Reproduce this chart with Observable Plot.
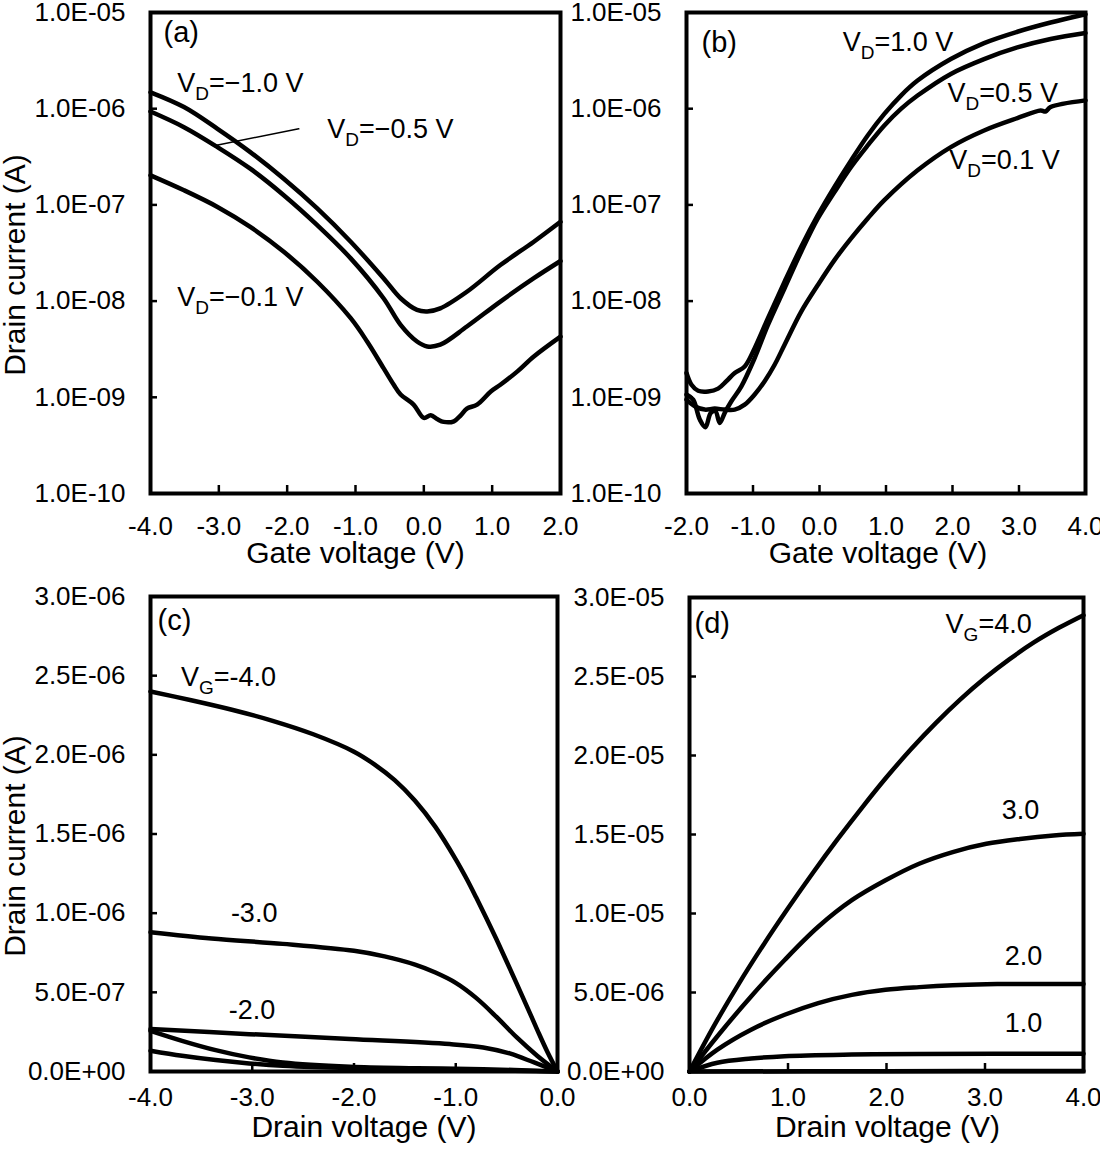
<!DOCTYPE html>
<html><head><meta charset="utf-8">
<script src="https://cdn.jsdelivr.net/npm/d3@7"></script>
<script src="https://cdn.jsdelivr.net/npm/@observablehq/plot@0.6"></script>
<style>
body{margin:0;background:#fff;}
#fig{position:relative;width:1100px;height:1151px;background:#fff;}
#fig svg{position:absolute;overflow:visible;}
</style></head><body><div id="fig"></div>
<script>
// ---------- Panel (a): transfer curves, p-type (Gate voltage V, Drain current A)
const a_VDm10 = [[-4.0,1.48e-6],[-3.51,1.04e-6],[-3.02,6.18e-7],[-2.54,3.54e-7],[-2.05,1.87e-7],[-1.56,9.2e-8],[-1.07,4.14e-8],[-0.59,1.73e-8],[-0.34,1.07e-8],[-0.10,8.1e-9],[0.05,7.8e-9],[0.24,8.4e-9],[0.63,1.25e-8],[1.12,2.37e-8],[1.61,4.14e-8],[2.0,6.67e-8]];
const a_VDm05 = [[-4.0,9.35e-7],[-3.51,6.43e-7],[-3.02,3.99e-7],[-2.54,2.38e-7],[-2.05,1.26e-7],[-1.56,6.15e-8],[-1.07,2.78e-8],[-0.59,1.07e-8],[-0.34,5.66e-9],[-0.10,3.8e-9],[0.05,3.38e-9],[0.24,3.52e-9],[0.63,5.44e-9],[1.12,9.89e-9],[1.61,1.73e-8],[2.0,2.61e-8]];
const a_VDm01 = [[-4.0,2.03e-7],[-3.51,1.42e-7],[-3.02,9.53e-8],[-2.54,5.91e-8],[-2.05,3.26e-8],[-1.56,1.59e-8],[-1.07,6.64e-9],[-0.83,3.8e-9],[-0.59,2.01e-9],[-0.44,1.35e-9],[-0.34,1.07e-9],[-0.15,8.4e-10],[0.0,6.1e-10],[0.10,6.5e-10],[0.20,5.9e-10],[0.29,5.55e-10],[0.44,5.63e-10],[0.54,6.5e-10],[0.63,7.63e-10],[0.78,8.4e-10],[0.98,1.15e-9],[1.12,1.35e-9],[1.37,1.86e-9],[1.61,2.66e-9],[2.0,4.28e-9]];
const a_pointer = [[-1.83,6.18e-7],[-3.05,4.15e-7]];
const a_labels = [
  {text:"V_D=−1.0 V", V:-3.61, I:1.85e-6},
  {text:"V_D=−0.5 V", V:-1.415, I:6.08e-7},
  {text:"V_D=−0.1 V", V:-3.61, I:1.09e-8}
];

// ---------- Panel (b): transfer curves, n-type
const b_VD10 = [[-2.0,1.79e-9],[-1.925,1.35e-9],[-1.825,1.17e-9],[-1.675,1.15e-9],[-1.525,1.23e-9],[-1.40,1.47e-9],[-1.275,1.79e-9],[-1.125,2.09e-9],[-0.975,3.24e-9],[-0.775,6.64e-9],[-0.525,1.59e-8],[-0.275,3.67e-8],[-0.025,7.82e-8],[0.225,1.54e-7],[0.475,2.9e-7],[0.725,5.27e-7],[0.975,8.83e-7],[1.225,1.37e-6],[1.475,1.96e-6],[1.975,3.28e-6],[2.475,4.81e-6],[2.975,6.31e-6],[3.475,7.87e-6],[4.0,9.6e-6]];
const b_VD05 = [[-2.0,1.07e-9],[-1.90,9.46e-10],[-1.80,5.87e-10],[-1.715,4.89e-10],[-1.635,6.89e-10],[-1.565,7.16e-10],[-1.50,5.42e-10],[-1.425,6.89e-10],[-1.325,9.09e-10],[-1.175,1.3e-9],[-0.975,2.56e-9],[-0.775,5.66e-9],[-0.525,1.36e-8],[-0.275,3.26e-8],[-0.025,7.22e-8],[0.225,1.36e-7],[0.475,2.48e-7],[0.725,4.15e-7],[0.975,6.7e-7],[1.225,9.96e-7],[1.475,1.37e-6],[1.975,2.3e-6],[2.475,3.28e-6],[2.975,4.33e-6],[3.475,5.3e-6],[4.0,6.11e-6]];
const b_VD01 = [[-2.0,9.46e-10],[-1.875,8.07e-10],[-1.725,7.45e-10],[-1.575,7.63e-10],[-1.425,7.45e-10],[-1.275,7.45e-10],[-1.125,8.39e-10],[-0.975,1.07e-9],[-0.825,1.47e-9],[-0.675,2.18e-9],[-0.525,3.52e-9],[-0.275,7.78e-9],[-0.025,1.47e-8],[0.225,2.67e-8],[0.475,4.48e-8],[0.725,7.22e-8],[0.975,1.12e-7],[1.475,2.29e-7],[1.975,3.99e-7],[2.475,5.94e-7],[2.975,7.98e-7],[3.325,9.57e-7],[3.40,9.35e-7],[3.475,1.04e-6],[4.0,1.22e-6]];
const b_labels = [
  {text:"V_D=1.0 V", V:0.35, I:4.89e-6},
  {text:"V_D=0.5 V", V:1.925, I:1.43e-6},
  {text:"V_D=0.1 V", V:1.95, I:2.9e-7}
];

// ---------- Panel (c): output curves, p-type (Drain voltage V, Drain current A)
const c_VGm4 = [[-4.0,2.40e-6],[-3.6,2.345e-6],[-3.2,2.285e-6],[-2.8,2.215e-6],[-2.4,2.13e-6],[-2.0,2.02e-6],[-1.8,1.94e-6],[-1.6,1.84e-6],[-1.4,1.71e-6],[-1.2,1.545e-6],[-1.0,1.34e-6],[-0.9,1.225e-6],[-0.8,1.10e-6],[-0.7,9.7e-7],[-0.6,8.35e-7],[-0.5,6.95e-7],[-0.4,5.53e-7],[-0.3,4.1e-7],[-0.2,2.65e-7],[-0.1,1.25e-7],[0.0,0]];
const c_VGm3 = [[-4.0,8.8e-7],[-3.4,8.4e-7],[-2.7,8.06e-7],[-2.0,7.62e-7],[-1.7,7.27e-7],[-1.4,6.75e-7],[-1.2,6.25e-7],[-1.0,5.6e-7],[-0.8,4.65e-7],[-0.6,3.45e-7],[-0.4,2.15e-7],[-0.2,1.0e-7],[0.0,0]];
const c_VGm2 = [[-4.0,2.68e-7],[-3.03,2.36e-7],[-2.04,2.05e-7],[-1.06,1.73e-7],[-0.73,1.52e-7],[-0.47,1.14e-7],[-0.23,5.7e-8],[0.0,0]];
const c_VGm1 = [[-4.0,2.57e-7],[-3.69,1.94e-7],[-3.36,1.35e-7],[-3.03,8.9e-8],[-2.70,5.7e-8],[-2.04,3.0e-8],[-1.38,2.1e-8],[-0.73,1.5e-8],[0.0,0]];
const c_VG0 = [[-4.0,1.31e-7],[-3.69,9.9e-8],[-3.36,7.2e-8],[-3.03,5.1e-8],[-2.70,3.6e-8],[-2.04,2.1e-8],[-1.38,1.5e-8],[-0.73,8e-9],[0.0,0]];
const c_labels = [
  {text:"V_G=-4.0", V:-3.70, I:2.49e-6},
  {text:"-3.0", V:-3.21, I:1.0e-6},
  {text:"-2.0", V:-3.23, I:3.88e-7}
];

// ---------- Panel (d): output curves, n-type
const d_VG4 = [[0,0],[0.25,2.9e-6],[0.5,5.55e-6],[0.75,8.01e-6],[1.0,1.033e-5],[1.25,1.255e-5],[1.5,1.467e-5],[1.75,1.669e-5],[2.0,1.862e-5],[2.25,2.041e-5],[2.5,2.205e-5],[2.75,2.355e-5],[3.0,2.49e-5],[3.25,2.61e-5],[3.5,2.717e-5],[3.75,2.808e-5],[4.0,2.888e-5]];
const d_VG3 = [[0,0],[0.283,2.23e-6],[0.625,4.75e-6],[0.966,7.06e-6],[1.307,9.16e-6],[1.648,1.084e-5],[1.99,1.21e-5],[2.331,1.315e-5],[2.672,1.389e-5],[3.014,1.441e-5],[3.355,1.472e-5],[3.696,1.494e-5],[4.0,1.504e-5]];
const d_VG2 = [[0,0],[0.283,1.39e-6],[0.625,2.65e-6],[0.966,3.59e-6],[1.307,4.33e-6],[1.648,4.85e-6],[1.99,5.17e-6],[2.331,5.34e-6],[2.672,5.46e-6],[3.014,5.52e-6],[3.355,5.54e-6],[4.0,5.54e-6]];
const d_VG1 = [[0,0],[0.283,5.5e-7],[0.625,8.2e-7],[0.966,9.7e-7],[1.648,1.07e-6],[2.331,1.11e-6],[4.0,1.13e-6]];
const d_VG0 = [[0,0],[2.0,2e-8],[4.0,3e-8]];
const d_labels = [
  {text:"V_G=4.0", V:2.60, I:2.83e-5},
  {text:"3.0", V:3.17, I:1.65e-5},
  {text:"2.0", V:3.20, I:7.27e-6},
  {text:"1.0", V:3.20, I:3.07e-6}
];

// ---------- Axis ticks
const logTicks = [1e-10,1e-9,1e-8,1e-7,1e-6,1e-5];
const logInner = [1e-9,1e-8,1e-7,1e-6];
const cTicks = [0,5e-7,1e-6,1.5e-6,2e-6,2.5e-6,3e-6];
const dTicks = [0,5e-6,1e-5,1.5e-5,2e-5,2.5e-5,3e-5];
const aXTicks = [-4,-3,-2,-1,0,1,2];
const bXTicks = [-2,-1,0,1,2,3,4];
const cXTicks = [-4,-3,-2,-1,0];
const dXTicks = [0,1,2,3,4];

function fmtE(d) {
  if (d === 0) return "0.0E+00";
  const e = Math.floor(Math.log10(Math.abs(d)) + 1e-9);
  const m = d / Math.pow(10, e);
  return m.toFixed(1) + "E" + (e < 0 ? "-" : "+") + String(Math.abs(e)).padStart(2, "0");
}

const FONT = "Liberation Sans, Arial, Helvetica, sans-serif";

function panel(o) {
  const rows = o.series.flatMap(s => s.pts.map(([V, I]) => ({s: s.name, V, I})));
  const marks = [
    Plot.line(rows, {x: "V", y: "I", z: "s", stroke: "black", strokeWidth: 4.5, curve: "catmull-rom", strokeLinejoin: "round"}),
    ...(o.extra || []),
    Plot.frame({stroke: "black", strokeWidth: 4}),
    Plot.axisY({ticks: o.yInner, tickSize: -7, text: null, strokeWidth: 2.5, label: null}),
    Plot.axisX({ticks: o.xInner, tickSize: -8, text: null, strokeWidth: 2.5, label: null}),
    Plot.axisY({ticks: o.yTicks, tickSize: 0, tickPadding: 25, tickFormat: fmtE, fontSize: 26, label: null}),
    Plot.axisX({ticks: o.xTicks, tickSize: 0, tickPadding: o.xPad, tickFormat: d => d.toFixed(1), fontSize: 26, label: null}),
    Plot.text(o.labels, {x: "V", y: "I", text: "text", textAnchor: "start", lineAnchor: "middle", fontSize: 27}),
    Plot.text([o.letter], {frameAnchor: "top-left", dx: o.letterDx, dy: o.letterDy, textAnchor: "start", lineAnchor: "middle", fontSize: 29}),
    Plot.text([o.xTitle], {frameAnchor: "bottom", dx: o.xTitleDx, dy: o.xTitleDy, textAnchor: "middle", lineAnchor: "middle", fontSize: 30})
  ];
  if (o.yTitle) marks.push(Plot.text([o.yTitle], {frameAnchor: "left", rotate: -90, dx: o.yTitleDx, dy: o.yTitleDy, textAnchor: "middle", lineAnchor: "middle", fontSize: 30}));
  const svg = Plot.plot({
    width: o.width, height: o.height,
    marginLeft: o.mL, marginRight: o.mR, marginTop: o.mT, marginBottom: o.mB,
    x: {domain: o.xDomain, label: null},
    y: {type: o.yType, domain: o.yDomain, label: null},
    style: {fontFamily: FONT, fontSize: "26px", overflow: "visible", background: "transparent", color: "black"},
    marks
  });
  svg.style.left = o.left + "px";
  svg.style.top = o.top + "px";
  // subscripts: "V_D=..." -> V<sub>D</sub>=...
  svg.querySelectorAll("text").forEach(t => {
    const s = t.textContent;
    const k = s.indexOf("_");
    if (k < 0) return;
    const ns = "http://www.w3.org/2000/svg";
    t.textContent = "";
    const a = document.createElementNS(ns, "tspan"); a.textContent = s.slice(0, k);
    const b = document.createElementNS(ns, "tspan"); b.textContent = s.slice(k + 1, k + 2);
    b.setAttribute("dy", "8"); b.setAttribute("font-size", "19");
    const c = document.createElementNS(ns, "tspan"); c.textContent = s.slice(k + 2);
    c.setAttribute("dy", "-8");
    t.append(a, b, c);
  });
  document.getElementById("fig").appendChild(svg);
}

panel({
  left: 0, top: 0, width: 562, height: 570, mL: 150, mR: 2, mT: 12, mB: 77,
  xDomain: [-4, 2], xTicks: aXTicks, xInner: [-3,-2,-1,0,1], xPad: 23,
  yType: "log", yDomain: [1e-10, 1e-5], yTicks: logTicks, yInner: logInner,
  series: [{name:"-1.0", pts:a_VDm10},{name:"-0.5", pts:a_VDm05},{name:"-0.1", pts:a_VDm01}],
  extra: [Plot.line(a_pointer, {x: d => d[0], y: d => d[1], stroke: "black", strokeWidth: 1.5})],
  labels: a_labels, letter: "(a)", letterDx: 13, letterDy: 20,
  xTitle: "Gate voltage (V)", xTitleDx: 0, xTitleDy: 60,
  yTitle: "Drain current (A)", yTitleDx: -135, yTitleDy: 12
});
panel({
  left: 562, top: 0, width: 538, height: 570, mL: 124, mR: 15, mT: 12, mB: 77,
  xDomain: [-2, 4], xTicks: bXTicks, xInner: [-1,0,1,2,3], xPad: 23,
  yType: "log", yDomain: [1e-10, 1e-5], yTicks: logTicks, yInner: logInner,
  series: [{name:"1.0", pts:b_VD10},{name:"0.5", pts:b_VD05},{name:"0.1", pts:b_VD01}],
  labels: b_labels, letter: "(b)", letterDx: 15, letterDy: 30,
  xTitle: "Gate voltage (V)", xTitleDx: -8, xTitleDy: 60
});
panel({
  left: 0, top: 570, width: 562, height: 581, mL: 150, mR: 5, mT: 26, mB: 80,
  xDomain: [-4, 0], xTicks: cXTicks, xInner: [-3,-2,-1], xPad: 16,
  yType: "linear", yDomain: [0, 3e-6], yTicks: cTicks, yInner: [5e-7,1e-6,1.5e-6,2e-6,2.5e-6],
  series: [{name:"-4", pts:c_VGm4},{name:"-3", pts:c_VGm3},{name:"-2", pts:c_VGm2},{name:"-1", pts:c_VGm1},{name:"0", pts:c_VG0}],
  labels: c_labels, letter: "(c)", letterDx: 7, letterDy: 24,
  xTitle: "Drain voltage (V)", xTitleDx: 10, xTitleDy: 56,
  yTitle: "Drain current (A)", yTitleDx: -135, yTitleDy: 12
});
panel({
  left: 562, top: 570, width: 538, height: 581, mL: 127, mR: 17, mT: 27, mB: 80,
  xDomain: [0, 4], xTicks: dXTicks, xInner: [1,2,3], xPad: 16,
  yType: "linear", yDomain: [0, 3e-5], yTicks: dTicks, yInner: [5e-6,1e-5,1.5e-5,2e-5,2.5e-5],
  series: [{name:"4", pts:d_VG4},{name:"3", pts:d_VG3},{name:"2", pts:d_VG2},{name:"1", pts:d_VG1},{name:"0", pts:d_VG0}],
  labels: d_labels, letter: "(d)", letterDx: 5, letterDy: 26,
  xTitle: "Drain voltage (V)", xTitleDx: 1, xTitleDy: 56
});
</script></body></html>
